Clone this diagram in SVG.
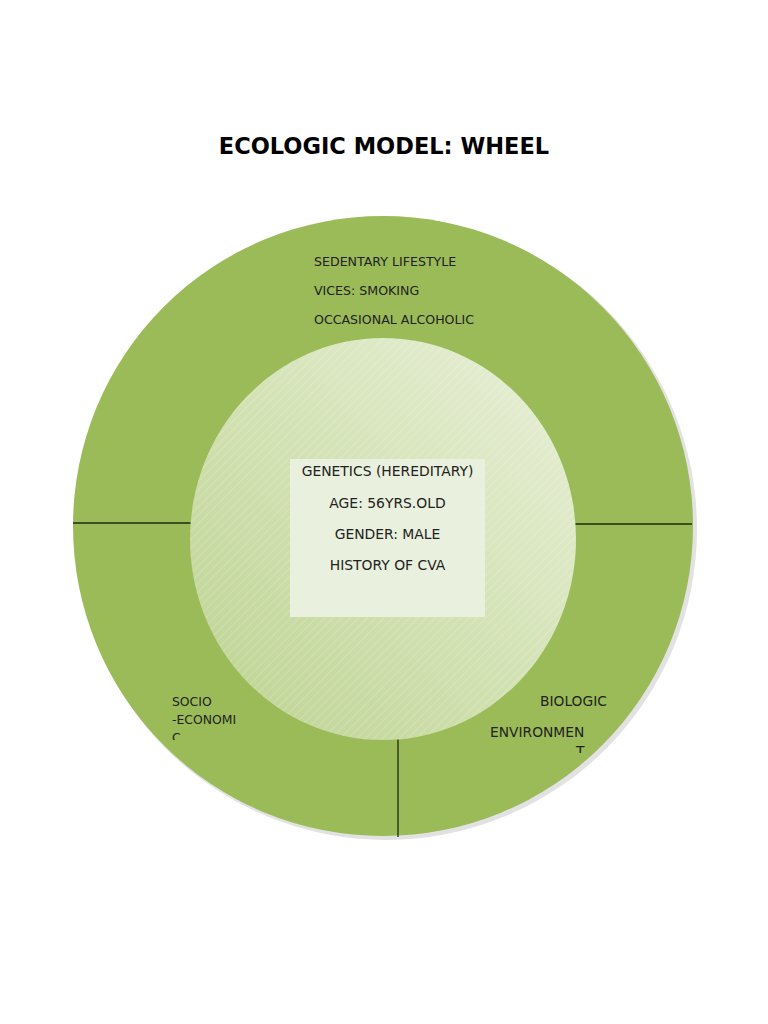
<svg xmlns="http://www.w3.org/2000/svg" width="768" height="1024" viewBox="0 0 768 1024">
<defs>
<style>
.t{font-family:"DejaVu Sans",Verdana,sans-serif;fill:#222;}
.s{font-size:12.6px;}
.b{font-size:13.8px;}
.c{font-size:13.9px;text-anchor:middle;}
.ln{stroke:#1e2a10;stroke-width:1.3;fill:none;}
</style>
<linearGradient id="ig" x1="0" y1="1" x2="1" y2="0">
<stop offset="0" stop-color="#bcd290"/>
<stop offset="0.5" stop-color="#d3e2b4"/>
<stop offset="1" stop-color="#e9f0da"/>
</linearGradient>
<pattern id="st" width="6" height="6" patternUnits="userSpaceOnUse" patternTransform="rotate(45)">
<line x1="0" y1="0" x2="0" y2="6" stroke="#ffffff" stroke-opacity="0.18" stroke-width="2"/>
</pattern>
<clipPath id="cl1"><rect x="160" y="690" width="100" height="50"/></clipPath>
<clipPath id="cl2"><rect x="480" y="720" width="120" height="33"/></clipPath>
</defs>
<rect width="768" height="1024" fill="#ffffff"/>
<text x="384" y="154" text-anchor="middle" font-family="'DejaVu Sans',Verdana,sans-serif" font-size="22.5" font-weight="bold" fill="#000">ECOLOGIC MODEL: WHEEL</text>
<g id="outer">
<circle cx="386" cy="529" r="311" fill="#e2e2e2"/>
<circle cx="383" cy="526" r="310" fill="#9bbb59"/>
</g>
<g id="connectors">
<line class="ln" x1="73" y1="523" x2="192" y2="523"/>
<line class="ln" x1="575" y1="524" x2="692" y2="524"/>
<line class="ln" x1="398" y1="739" x2="398" y2="837"/>
</g>
<g id="inner">
<ellipse cx="383" cy="539" rx="193" ry="201" fill="url(#ig)"/>
<ellipse cx="383" cy="539" rx="193" ry="201" fill="url(#st)"/>
</g>
<g id="lifestyle">
<text class="t s" x="314" y="266">SEDENTARY LIFESTYLE</text>
<text class="t s" x="314" y="295">VICES: SMOKING</text>
<text class="t s" x="314" y="324">OCCASIONAL ALCOHOLIC</text>
</g>
<g id="center-box">
<rect x="290" y="459" width="195" height="158" fill="#e9f0dd"/>
<text class="t c" x="387.5" y="476">GENETICS (HEREDITARY)</text>
<text class="t c" x="387.5" y="508">AGE: 56YRS.OLD</text>
<text class="t c" x="387.5" y="539">GENDER: MALE</text>
<text class="t c" x="387.5" y="570">HISTORY OF CVA</text>
</g>
<g id="socio" clip-path="url(#cl1)">
<text class="t" font-size="12.4" x="172" y="706">SOCIO</text>
<text class="t" font-size="12.4" x="172" y="724">-ECONOMI</text>
<text class="t" font-size="12.4" x="172" y="742">C</text>
</g>
<g id="biologic">
<text class="t b" x="540" y="706">BIOLOGIC</text>
<g clip-path="url(#cl2)">
<text class="t b" x="490" y="737">ENVIRONMEN</text>
<text class="t b" x="576" y="756">T</text>
</g>
</g>
</svg>
